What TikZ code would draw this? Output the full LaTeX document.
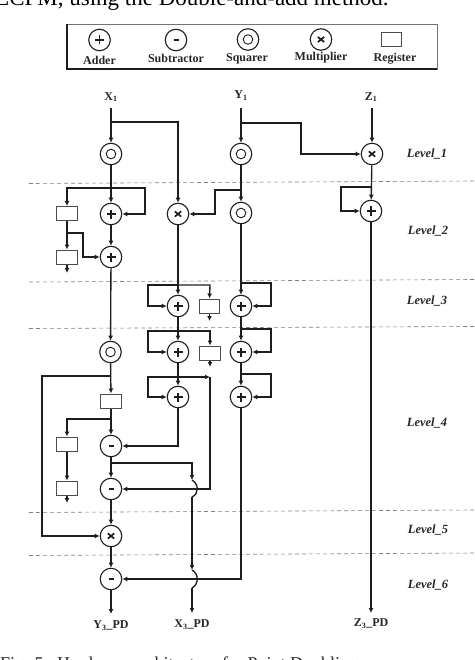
\documentclass[tikz,border=0pt]{standalone}
\usepackage{fontspec}
\setmainfont{Liberation Serif}
\usetikzlibrary{arrows.meta,calc}
\definecolor{ink}{HTML}{1E1E1E}
\tikzset{
  base/.style={draw=ink,line width=1.1pt},
  op/.style={base,circle,minimum size=21.5pt,inner sep=0pt,fill=white},
  adder/.style={op,path picture={\draw[ink,line width=1.7pt] ($(path picture bounding box.center)+(-4.5pt,0)$)--+(9pt,0) ($(path picture bounding box.center)+(0,-4.5pt)$)--+(0,9pt);}},
  subtr/.style={op,path picture={\draw[ink,line width=1.8pt] ($(path picture bounding box.center)+(-2.5pt,0)$)--+(5pt,0);}},
  squarer/.style={op,path picture={\draw[ink,line width=.9pt] (path picture bounding box.center) circle (4.8pt);}},
  multr/.style={op,path picture={\draw[ink,line width=1.7pt] ($(path picture bounding box.center)+(-3.2pt,-2.6pt)$)--+(6.4pt,5.2pt) ($(path picture bounding box.center)+(-3.2pt,2.6pt)$)--+(6.4pt,-5.2pt);}},
  reg/.style={draw=black!70,line width=1pt,minimum width=20.5pt,minimum height=14pt,inner sep=0pt,fill=white},
  wire/.style={draw=ink,line width=1.35pt},
  arr/.style={wire,-{Latex[length=5pt,width=5pt]}},
  lvl/.style={font=\fontsize{12.5}{13}\selectfont\bfseries\itshape,text=black!85,inner sep=0pt},
  lbl/.style={font=\fontsize{12}{13}\selectfont\bfseries,text=black!85,inner sep=0pt},
  sep/.style={draw=black!50,dashed,dash pattern=on 4pt off 3pt,line width=.6pt},
}
\begin{document}
\begin{tikzpicture}[x=1pt,y=-1pt]
\useasboundingbox (0,0) rectangle (474,660);
\clip (0,0) rectangle (474,660);
% page text
\node[anchor=base west,inner sep=0pt,font=\fontsize{23}{24}\selectfont] (ttl) at (-5,6) {ECPM, using the Double-and-add method.};
\node[anchor=base west,inner sep=0pt,font=\fontsize{18}{19}\selectfont,text=black!85] (cap) at (0,669) {Fig. 5.\ \ Hardware architecture for Point Doubling};
% legend
\draw[draw=black!55,line width=.7pt] (67,24) rectangle (437,69);
\draw[draw=ink,line width=1.3pt] (437,69) -- (67,69) -- (67,24);
\node[adder] (ladd) at (99.5,40) {};
\node[subtr] (lsub) at (176,40) {};
\node[squarer] (lsq) at (248,39.5) {};
\node[multr] (lmul) at (321,39.5) {};
\node[reg] (lreg) at (391.5,39.5) {};
\node[lbl] (t1) at (99.5,60) {Adder};
\node[lbl] (t2) at (176,58) {Subtractor};
\node[lbl] (t3) at (247,58.5) {Squarer};
\node[lbl] (t4) at (321,58) {Multiplier};
\node[lbl] (t5) at (395,59) {Register};
% level separators
\coordinate (s1a) at (29,183.5); \coordinate (s1b) at (474,181);
\coordinate (s2a) at (29,282); \coordinate (s2b) at (474,279.5);
\coordinate (s3a) at (29,328.5); \coordinate (s3b) at (474,326.5);
\coordinate (s4a) at (29,512.5); \coordinate (s4b) at (474,510);
\coordinate (s5a) at (29,555.5); \coordinate (s5b) at (474,553);
\foreach \i in {1,...,5} \draw[sep] (s\i a) -- (s\i b);
\node[lvl] (L1) at (427,154) {Level\_1};
\node[lvl] (L2) at (428,231) {Level\_2};
\node[lvl] (L3) at (427,301) {Level\_3};
\node[lvl] (L4) at (427,423) {Level\_4};
\node[lvl] (L5) at (428,530) {Level\_5};
\node[lvl] (L6) at (428,585) {Level\_6};
% inputs / outputs
\node[lbl] (X1) at (111,97) {X\textsubscript{1}};
\node[lbl] (Y1) at (241,95.5) {Y\textsubscript{1}};
\node[lbl] (Z1) at (371,97) {Z\textsubscript{1}};
\node[lbl] (Y3) at (111,626) {Y\textsubscript{3}\_PD};
\node[lbl] (X3) at (192,625) {X\textsubscript{3}\_PD};
\node[lbl] (Z3) at (371,624) {Z\textsubscript{3}\_PD};
% operators
\node[squarer] (sqX) at (111,154) {};
\node[adder] (a1) at (111,214) {};
\node[adder] (a2) at (111,257) {};
\node[reg] (r1) at (67,213.5) {};
\node[reg] (r2) at (67,257) {};
\node[multr] (mX) at (178,214) {};
\node[squarer] (sqY) at (241,154) {};
\node[squarer] (sqY2) at (241,213) {};
\node[multr] (mZ) at (372,154) {};
\node[adder] (aZ) at (371,211) {};
\node[adder] (a3) at (178,306) {};
\node[adder] (a4) at (241,306) {};
\node[reg] (r3) at (209.5,306) {};
\node[adder] (a5) at (178,352) {};
\node[adder] (a6) at (241,352) {};
\node[reg] (r4) at (210,353) {};
\node[squarer] (sq3) at (110.5,352) {};
\node[adder] (a7) at (178,397) {};
\node[adder] (a8) at (241,397) {};
\node[reg] (r5) at (111,401) {};
\node[reg] (r6) at (67,444) {};
\node[reg] (r7) at (67,488) {};
\node[subtr] (s1) at (111,446) {};
\node[subtr] (s2) at (111,489) {};
\node[multr] (m2) at (111,536) {};
\node[subtr] (s3) at (111,579) {};
% free ends and junctions
\coordinate (x0) at (111,108);
\coordinate (y0) at (241,108);
\coordinate (z0) at (372,108);
\coordinate (jx1) at (111,122);
\coordinate (jy1) at (241,123);
\coordinate (ky1) at (301,123);
\coordinate (jx2) at (111,188);
\coordinate (kx2l) at (67,188);
\coordinate (kx2r) at (145,188);
\coordinate (jy2) at (241,190);
\coordinate (ky2) at (215,190);
\coordinate (jz) at (372,187);
\coordinate (kz) at (341,187);
\coordinate (j12) at (67,233);
\coordinate (k12) at (83,233);
\coordinate (o2) at (67,273);
\coordinate (j3) at (178,285);
\coordinate (j3l) at (148,285);
\coordinate (k3r) at (210,285);
\coordinate (j4) at (241,283);
\coordinate (k4) at (271,283);
\coordinate (o3) at (209.5,321);
\coordinate (j5) at (178,331);
\coordinate (j5l) at (148,331);
\coordinate (k5r) at (210,331);
\coordinate (j6) at (241,329);
\coordinate (k6) at (271,329);
\coordinate (o4) at (210,367);
\coordinate (j7) at (178,377);
\coordinate (j7l) at (148,377);
\coordinate (k7r) at (210,377);
\coordinate (j8) at (241,374);
\coordinate (k8) at (271,374);
\coordinate (jsq) at (111,376);
\coordinate (ksq) at (42,376);
\coordinate (jr5) at (111,419);
\coordinate (kr5) at (67,419);
\coordinate (o7) at (67,503);
\coordinate (js1) at (111,463);
\coordinate (ks1) at (192,463);
\coordinate (h1a) at (192,480);
\coordinate (h1b) at (192,497);
\coordinate (h2a) at (192,570);
\coordinate (h2b) at (192,588);
\coordinate (xo) at (192,613);
\coordinate (yo) at (111,614);
\coordinate (zo) at (371,613);
% X column
\draw[arr] (x0) -- (sqX);
\draw[arr] (jx1) -| (mX.north);
\draw[arr] (sqX) -- (a1);
\draw[arr] (jx2) -- (kx2l) -- (r1.north);
\draw[arr] (jx2) -- (kx2r) |- (a1.east);
\draw[arr] (r1) -- (r2);
\draw[arr] (j12) -- (k12) |- (a2.west);
\draw[arr] (r2) -- (o2);
\draw[arr] (a1) -- (a2);
\draw[arr] (a2) -- (sq3);
% Y column
\draw[arr] (y0) -- (sqY);
\draw[arr] (sqY) -- (sqY2);
\draw[arr] (jy1) -- (ky1) |- (mZ.west);
\draw[arr] (jy2) -- (ky2) |- (mX.east);
\draw[arr] (sqY2) -- (a4);
% Z column
\draw[arr] (z0) -- (mZ);
\draw[arr] (mZ) -- (aZ);
\draw[arr] (jz) -- (kz) |- (aZ.west);
\draw[arr] (aZ) -- (zo);
% level 3
\draw[arr] (mX) -- (a3);
\draw[arr] (j3) -- (j3l) |- (a3.west);
\draw[arr] (j3) -- (k3r) -- (r3.north);
\draw[arr] (r3) -- (o3);
\draw[arr] (j4) -- (k4) |- (a4.east);
\draw[arr] (a3) -- (a5);
\draw[arr] (a4) -- (a6);
\draw[arr] (j5) -- (j5l) |- (a5.west);
\draw[arr] (j5) -- (k5r) -- (r4.north);
\draw[arr] (r4) -- (o4);
\draw[arr] (j6) -- (k6) |- (a6.east);
\draw[arr] (a5) -- (a7);
\draw[arr] (a6) -- (a8);
\draw[arr] (j7) -- (j7l) |- (a7.west);
\draw[arr] (j7) -- (k7r);
\draw[arr] (k7r) |- (s2.east);
\draw[arr] (j8) -- (k8) |- (a8.east);
% level 4-6
\draw[arr] (sq3) -- (r5);
\draw[arr] (jsq) -- (ksq) |- (m2.west);
\draw[arr] (r5) -- (s1);
\draw[arr] (jr5) -- (kr5) -- (r6.north);
\draw[arr] (r6) -- (r7);
\draw[arr] (r7) -- (o7);
\draw[arr] (a7) |- (s1.east);
\draw[arr] (s1) -- (s2);
\draw[arr] (s2) -- (m2);
\draw[arr] (m2) -- (s3);
\draw[arr] (s3) -- (yo);
\draw[arr] (a8) |- (s3.east);
\draw[arr] (js1) -- (ks1) -- (h1a);
\draw[wire] (h1a) .. controls (199,484) and (199,494) .. (h1b);
\draw[arr] (h1b) -- (h2a);
\draw[wire] (h2a) .. controls (199,574) and (199,584) .. (h2b);
\draw[arr] (h2b) -- (xo);
\end{tikzpicture}
\end{document}
